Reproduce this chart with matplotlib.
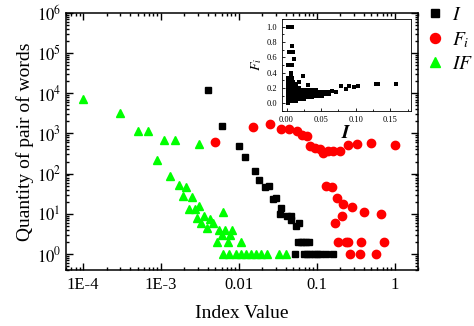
import numpy as np
import matplotlib
matplotlib.use("Agg")
import matplotlib.pyplot as plt
from matplotlib.ticker import FixedLocator, FixedFormatter, LogLocator, NullFormatter, MultipleLocator

plt.rcParams["font.family"] = ["Liberation Serif", "DejaVu Serif"]
plt.rcParams["mathtext.fontset"] = "stix"

# I: index value vs quantity of word pairs
i_x = [0.0040, 0.0060, 0.0100, 0.0120, 0.0160, 0.0180, 0.0215, 0.0240, 0.0275, 0.0300,
       0.0340, 0.0350, 0.0410, 0.0460, 0.0470, 0.0540, 0.0600,
       0.057, 0.062, 0.067, 0.073, 0.079,
       0.052, 0.068, 0.075, 0.083, 0.092, 0.100, 0.110, 0.130, 0.160]
i_y = [12000, 1550, 490, 255, 118, 70, 47, 49, 23, 25,
       10, 14, 9, 7, 9, 5, 6,
       2, 2, 2, 2, 2,
       1, 1, 1, 1, 1, 1, 1, 1, 1]

# F_i
f_x = [0.005, 0.015, 0.025, 0.035, 0.044, 0.055, 0.065, 0.074, 0.083, 0.094, 0.110,
       0.120, 0.140, 0.160, 0.200, 0.250, 0.330, 0.490, 1.000,
       0.133, 0.155, 0.184, 0.220, 0.280, 0.400, 0.660, 0.210, 0.170,
       0.190, 0.235, 0.250, 0.370, 0.740,
       0.265, 0.360, 0.570]
f_y = [610, 1440, 1700, 1290, 1290, 1170, 910, 870, 495, 440, 410,
       320, 365, 370, 370, 510, 540, 575, 510,
       49, 47, 25, 17.5, 15, 11, 10, 9, 6,
       2, 2, 2, 2, 2,
       1, 1, 1]

# IF
if_x = [1.0e-4, 3.0e-4, 5.0e-4, 6.9e-4, 1.1e-3, 1.5e-3, 3.1e-3, 8.9e-4, 1.3e-3,
        1.7e-3, 2.1e-3, 1.9e-3, 2.5e-3, 2.3e-3, 2.7e-3, 3.1e-3, 2.9e-3, 3.6e-3,
        3.3e-3, 4.2e-3, 3.9e-3, 4.6e-3, 5.5e-3, 6.2e-3, 6.6e-3, 8.1e-3, 7.6e-3,
        5.2e-3, 7.3e-3, 1.08e-2, 6.0e-3,
        6.3e-3, 7.5e-3, 9.3e-3, 1.07e-2, 1.25e-2, 1.45e-2, 1.65e-2, 1.95e-2,
        2.3e-2, 3.3e-2, 4.0e-2]
if_y = [7200, 3250, 1170, 1170, 670, 670, 550, 215, 89,
        52, 47, 28, 26, 13, 13, 16, 8, 9,
        6, 7.6, 4.5, 6, 4, 11, 4, 4, 3,
        2, 2, 2, 3,
        1, 1, 1, 1, 1, 1, 1, 1,
        1, 1, 1]

# inset: F_i against I for every word pair (dense core written row by row)
core_rows = {
    0.000: [0.002],
    0.025: [0.002, 0.006, 0.010, 0.013],
    0.050: [0.002, 0.006, 0.010, 0.014, 0.018, 0.022, 0.026],
    0.075: [0.002, 0.007, 0.012, 0.017, 0.022, 0.027, 0.032, 0.037],
    0.100: [0.002, 0.007, 0.012, 0.017, 0.022, 0.027, 0.032, 0.037, 0.042, 0.047, 0.052],
    0.125: [0.002, 0.007, 0.012, 0.017, 0.022, 0.027, 0.032, 0.037, 0.042, 0.047, 0.052, 0.057, 0.062],
    0.150: [0.002, 0.007, 0.012, 0.017, 0.022, 0.027, 0.032, 0.037, 0.042, 0.047, 0.052, 0.057, 0.062],
    0.175: [0.002, 0.007, 0.012, 0.017, 0.022, 0.027, 0.032, 0.037, 0.042],
    0.200: [0.002, 0.006, 0.010, 0.014, 0.018],
    0.225: [0.002, 0.006, 0.010],
    0.250: [0.002, 0.006, 0.010, 0.013],
    0.275: [0.002, 0.006, 0.010],
    0.300: [0.002, 0.006],
}
sparse_I = [0.002, 0.004, 0.006, 0.008, 0.0072, 0.004, 0.0087, 0.0105,
            0.002, 0.004, 0.006, 0.0075, 0.006, 0.007, 0.002, 0.005, 0.008,
            0.024, 0.031, 0.018, 0.072, 0.079, 0.086, 0.091, 0.098, 0.103,
            0.129, 0.132, 0.158, 0.066]
sparse_F = [1.0, 1.0, 1.0, 1.0, 0.75, 0.67, 0.67, 0.58,
            0.5, 0.5, 0.5, 0.5, 0.40, 0.35, 0.33, 0.33, 0.33,
            0.35, 0.24, 0.28, 0.145, 0.23, 0.19, 0.23, 0.205, 0.22,
            0.25, 0.25, 0.25, 0.16]

ins_I = [v for row in core_rows.values() for v in row] + sparse_I
ins_F = [f for f, row in core_rows.items() for _ in row] + sparse_F

fig = plt.figure(figsize=(4.74, 3.26), dpi=100)
ax = fig.add_axes([0.139, 0.172, 0.743, 0.788])

ax.plot(i_x, i_y, "s", color="black", ms=5, ls="none", label="$I$")
ax.plot(f_x, f_y, "o", color="#ff0000", ms=6, ls="none", label="$F_i$")
ax.plot(if_x, if_y, "^", color="#00ff00", ms=6, ls="none", label="$IF$")

ax.set_xscale("log")
ax.set_yscale("log")
ax.set_xlim(6.0e-5, 2.0)
ax.set_ylim(0.4, 1e6)

ax.xaxis.set_major_locator(FixedLocator([1e-4, 1e-3, 1e-2, 1e-1, 1]))
ax.xaxis.set_major_formatter(FixedFormatter(["1E-4", "1E-3", "0.01", "0.1", "1"]))
ax.xaxis.set_minor_locator(LogLocator(base=10, subs=np.arange(2, 10)))
ax.xaxis.set_minor_formatter(NullFormatter())
ax.yaxis.set_major_locator(FixedLocator([1, 10, 100, 1e3, 1e4, 1e5, 1e6]))
ax.yaxis.set_major_formatter(FixedFormatter([r"$10^{%d}$" % k for k in range(7)]))
ax.yaxis.set_minor_locator(LogLocator(base=10, subs=np.arange(2, 10)))
ax.yaxis.set_minor_formatter(NullFormatter())

ax.tick_params(which="both", direction="in", top=True, right=True, labelsize=12, width=1)
ax.tick_params(which="major", length=5)
ax.tick_params(which="minor", length=2.5)
ax.tick_params(axis="x", pad=5)
for s in ax.spines.values():
    s.set_linewidth(1.1)

ax.set_xlabel("Index Value", fontsize=14, labelpad=9)
ax.set_ylabel("Quantity of pair of words", fontsize=14, labelpad=2)

leg = ax.legend(loc="upper left", bbox_to_anchor=(1.025, 1.025), frameon=False,
                fontsize=14, handletextpad=0.5, labelspacing=0.3, handlelength=0.8,
                borderpad=0, borderaxespad=0, markerscale=1.2)

# inset
axi = fig.add_axes([0.595, 0.660, 0.272, 0.282])
axi.plot(ins_I, ins_F, "s", color="black", ms=3.4, mew=0, ls="none")
axi.set_xlim(-0.0065, 0.18)
axi.set_ylim(-0.1, 1.1)
axi.xaxis.set_major_locator(MultipleLocator(0.05))
axi.xaxis.set_minor_locator(MultipleLocator(0.025))
axi.yaxis.set_major_locator(MultipleLocator(0.2))
axi.yaxis.set_minor_locator(MultipleLocator(0.1))
axi.xaxis.set_major_formatter(plt.FuncFormatter(lambda v, p: "%.2f" % v))
axi.yaxis.set_major_formatter(plt.FuncFormatter(lambda v, p: "%.1f" % v))
axi.tick_params(which="both", direction="in", labelsize=6, width=0.6)
axi.tick_params(which="major", length=2.5)
axi.tick_params(which="minor", length=1.5)
for s in axi.spines.values():
    s.set_linewidth(0.6)
axi.set_xlabel("$\\boldsymbol{I}$", fontsize=14, labelpad=1)
axi.set_ylabel("$\\boldsymbol{F_i}$", fontsize=10, labelpad=2)

fig.savefig("out.png", dpi=100)
